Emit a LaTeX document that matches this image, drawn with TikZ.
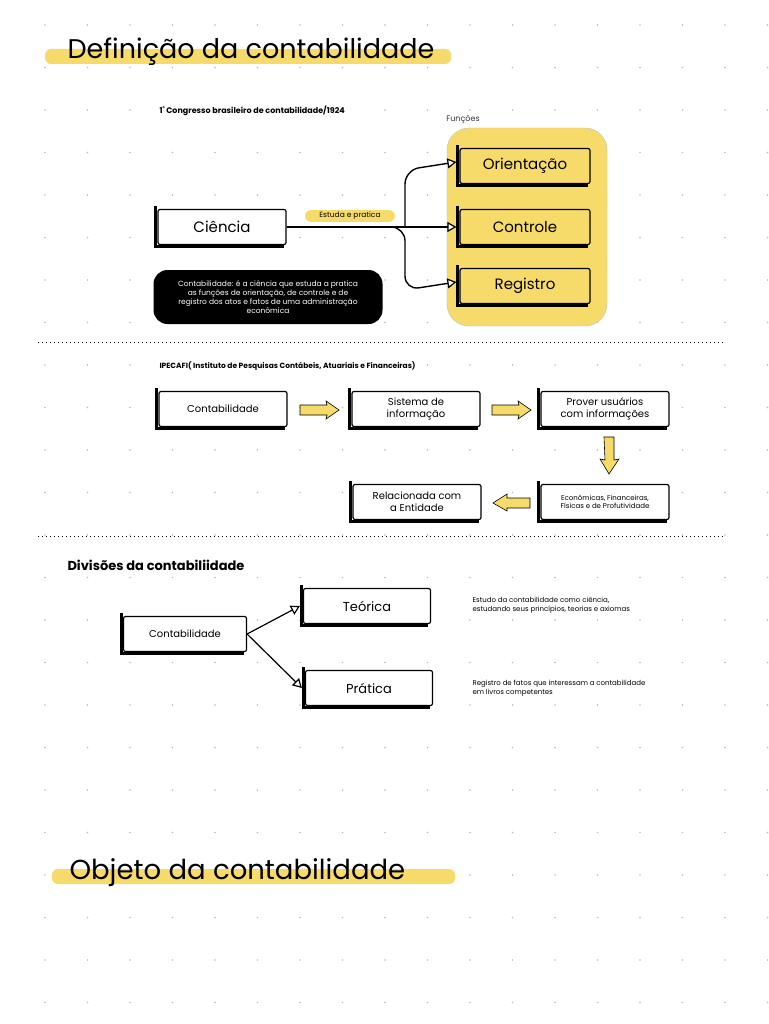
\documentclass[tikz,border=0pt]{standalone}
\usepackage{fontspec}
\setmainfont{Poppins}
\usetikzlibrary{arrows.meta}
\definecolor{yel}{HTML}{F7DB6A}
\definecolor{dotc}{HTML}{BBBBBB}
\tikzset{
  box/.style={draw=black,line width=1.2pt,fill=white,rounded corners=2pt,minimum width=#1,minimum height=35pt,inner sep=1pt,align=center,font=\fontsize{10}{12}\selectfont},
  box/.default=128pt,
  conn/.style={line width=1.4pt,-{Triangle[open,fill=white,length=9pt,width=10pt,line width=1.2pt]}},
  yarr/.style={draw=black,line width=0.6pt,fill=yel},
}
\begin{document}
\begin{tikzpicture}[x=1pt,y=-1pt]
\useasboundingbox (0,0) rectangle (768,1024);
\fill[white] (0,0) rectangle (768,1024);
\foreach \i in {0,...,17} \foreach \j in {0,...,23}
  \fill[dotc] (45+\i*42.5,25+\j*42.5) circle (0.8pt);
\fill[yel,rounded corners=6pt] (45,49) rectangle (451,64);
\node[anchor=west,font=\fontsize{27}{30}\selectfont] (t1) at (64,52) {Definição da contabilidade};
\node[anchor=west,font=\bfseries\fontsize{8}{10}\selectfont] (c1) at (156,111) {1˚ Congresso brasileiro de contabilidade/1924};
\node[font=\fontsize{8}{10}\selectfont,text=black!80] (fun) at (463,120) {Funções};
\fill[yel,draw=black!25,rounded corners=22pt] (447,128) rectangle (607,326);
\node[box=130pt,fill=yel,font=\fontsize{15}{17}\selectfont] (ori) at (525,166) {Orientação};
\node[box=130pt,fill=yel,font=\fontsize{15}{17}\selectfont] (con) at (525,227) {Controle};
\node[box=130pt,fill=yel,font=\fontsize{15}{17}\selectfont] (reg) at (525,286) {Registro};
\node[box=128pt,font=\fontsize{15}{17}\selectfont] (cie) at (222,227) {Ciência};
\foreach \n in {ori,con,reg,cie}{
  \draw[line width=3pt] ([xshift=-1.5pt,yshift=3pt]\n.north west) -- ([xshift=-1.5pt,yshift=-1.5pt]\n.south west) -- ([xshift=-3pt,yshift=-1.5pt]\n.south east);}
\node[fill=yel,rounded corners=6pt,inner sep=2pt,minimum width=90pt,font=\fontsize{7.5}{9}\selectfont] (est) at (350,216) {Estuda e pratica};
\coordinate (sp) at (405,227);
\draw[conn] (cie.east) -- ([xshift=-3pt]con.west);
\draw[conn,rounded corners=14pt] (sp) -- (405,170) -- ([xshift=-3pt,yshift=4pt]ori.west);
\draw[conn,rounded corners=14pt] (cie.east) -- (sp) -- (405,290) -- ([xshift=-3pt,yshift=4pt]reg.west);
\node[fill=black,text=white,rounded corners=14pt,minimum width=229pt,minimum height=54pt,align=center,inner sep=2pt,font=\fontsize{7.5}{9}\selectfont] (blob) at (268,297) {Contabilidade: é a ciência que estuda a pratica\\as funções de orientação, de controle e de\\registro dos atos e fatos de uma administração\\econômica};
\draw[line width=1pt,dash pattern=on 1pt off 3pt] (38,342) -- (725,342);
\node[anchor=west,font=\bfseries\fontsize{7.5}{9}\selectfont] (ip) at (156,366) {IPECAFI( Instituto de Pesquisas Contábeis, Atuariais e Financeiras)};
\node[box] (b1) at (223,409) {Contabilidade};
\node[box] (b2) at (416,409) {Sistema de\\informação};
\node[box] (b3) at (605,409) {Prover usuários\\com informações};
\node[box,font=\fontsize{7}{8.5}\selectfont] (b4) at (605,502) {Econômicas, Financeiras,\\Físicas e de Profutividade};
\node[box] (b5) at (417,502) {Relacionada com\\a Entidade};
\foreach \n in {b1,b2,b3,b4,b5}{
  \draw[line width=3pt] ([xshift=-1.5pt,yshift=3pt]\n.north west) -- ([xshift=-1.5pt,yshift=-1.5pt]\n.south west) -- ([xshift=-3pt,yshift=-1.5pt]\n.south east);}
\draw[yarr] (300,405)--(327,405)--(326,401)--(339,410)--(326,419)--(327,415)--(300,415)--cycle;
\draw[yarr] (492,405)--(519,405)--(518,401)--(531,410)--(518,419)--(519,415)--(492,415)--cycle;
\draw[yarr] (604,437)--(614,437)--(614,460)--(619,459)--(609,474)--(600,459)--(605,460)--cycle;
\draw[yarr] (530,498)--(507,498)--(507,494)--(493,503)--(507,511)--(507,508)--(530,508)--cycle;
\draw[line width=1pt,dash pattern=on 1pt off 3pt] (38,536) -- (725,536);
\node[anchor=west,font=\bfseries\fontsize{13}{15}\selectfont] (dv) at (64,565) {Divisões da contabiliidade};
\node[box=123pt,font=\fontsize{10}{12}\selectfont] (d0) at (185,634) {Contabilidade};
\node[box=127pt,font=\fontsize{13}{15}\selectfont] (d1) at (367,606) {Teórica};
\node[box=127pt,font=\fontsize{13}{15}\selectfont] (d2) at (369,688) {Prática};
\foreach \n in {d0,d1,d2}{
  \draw[line width=3pt] ([xshift=-1.5pt,yshift=3pt]\n.north west) -- ([xshift=-1.5pt,yshift=-1.5pt]\n.south west) -- ([xshift=-3pt,yshift=-1.5pt]\n.south east);}
\draw[conn,line width=1.2pt] (d0.east) -- ([xshift=-3pt]d1.west);
\draw[conn,line width=1.2pt] (d0.east) -- ([xshift=-3pt]d2.west);
\node[anchor=north west,align=left,font=\fontsize{7}{9}\selectfont] (tx1) at (469,594) {Estudo da contabilidade  como ciência,\\estudando seus princípios, teorias e axiomas};
\node[anchor=north west,align=left,font=\fontsize{7}{9}\selectfont] (tx2) at (469,677) {Registro de fatos que interessam a contabilidade\\em livros competentes};
\fill[yel,rounded corners=6pt] (52,869) rectangle (455,884);
\node[anchor=west,font=\fontsize{27.5}{30}\selectfont] (t2) at (66,873) {Objeto da contabilidade};
\end{tikzpicture}
\end{document}
